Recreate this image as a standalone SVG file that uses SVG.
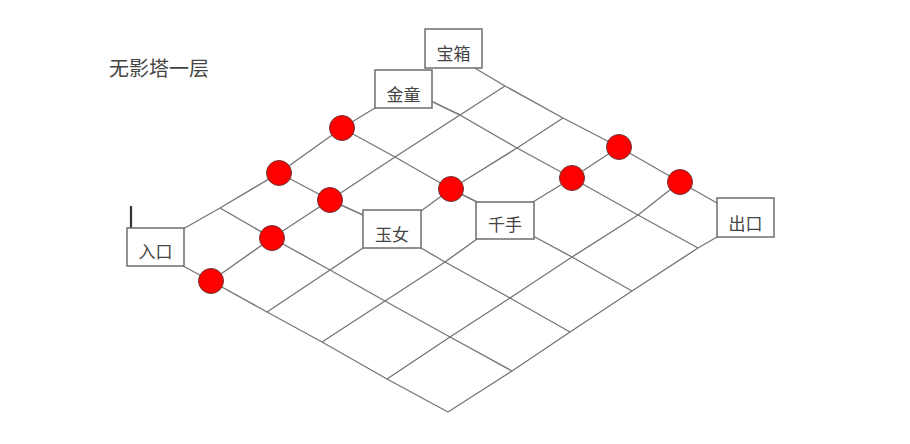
<svg xmlns="http://www.w3.org/2000/svg" width="910" height="444" viewBox="0 0 910 444">
<style>
.ln{fill:none;stroke:#777;stroke-width:1.4;stroke-linejoin:round}
.box{fill:#fff;stroke:#6e6e6e;stroke-width:1.5}
.lbl{font-family:"Noto Sans CJK SC","Noto Sans",sans-serif;font-size:17px;fill:#444;text-anchor:middle}
.dot{fill:#f00;stroke:#6b3434;stroke-width:1}
</style>
<rect width="910" height="444" fill="#fff"/>
<text x="109" y="76" style="font-family:'Noto Sans CJK SC','Noto Sans',sans-serif;font-size:20px;fill:#444">无影塔一层</text>
<line x1="131" y1="206" x2="131" y2="238" stroke="#333" stroke-width="2.2"/>
<g id="connectors">
<polyline class="ln" points="160,243 183,229 220,208 279,173 342,128 375,108 395,96"/>
<polyline class="ln" points="211,281 272,238 330,200 395,157 460,115 505,86"/>
<polyline class="ln" points="267,312 330,270 363,248 392,230 421,211 451,189 517,148 563,118"/>
<polyline class="ln" points="322,342 385,301 445,262 477,239 505,220 533,202 572,178 619,147"/>
<polyline class="ln" points="387,379 450,337 510,298 572,257 638,215 680,182"/>
<polyline class="ln" points="448,412 512,371 570,332 632,291 698,248 717,237 730,229"/>
<polyline class="ln" points="160,254 183,266 211,281 267,312 322,342 387,379 448,412"/>
<polyline class="ln" points="220,208 272,238 330,270 385,301 450,337 512,371"/>
<polyline class="ln" points="279,173 330,200 363,215 392,230 421,248 445,262 510,298 570,332"/>
<polyline class="ln" points="342,128 395,157 451,189 477,202 505,220 533,236 572,257 632,291"/>
<polyline class="ln" points="420,95 433,102 460,115 517,148 572,178 638,215 698,248"/>
<polyline class="ln" points="460,60 473,67 505,86 563,118 619,147 680,182 717,203 730,210"/>
</g>
<g id="n-baoxiang"><rect class="box" x="425" y="29" width="57" height="39"/><text class="lbl" x="453.5" y="60">宝箱</text></g>
<g id="n-jintong"><rect class="box" x="375" y="70" width="57" height="38"/><text class="lbl" x="403.5" y="100.5">金童</text></g>
<g id="n-yunv"><rect class="box" x="363" y="210" width="58" height="38"/><text class="lbl" x="392" y="240.5">玉女</text></g>
<g id="n-qianshou"><rect class="box" x="476" y="202" width="58" height="37"/><text class="lbl" x="505" y="231">千手</text></g>
<g id="n-chukou"><rect class="box" x="717" y="198" width="57" height="39"/><text class="lbl" x="745.5" y="229.5">出口</text></g>
<g id="n-rukou"><rect class="box" x="127" y="228" width="57" height="38"/><text class="lbl" x="155.5" y="258">入口</text></g>
<g id="dots">
<circle class="dot" cx="211" cy="281" r="12.5"/>
<circle class="dot" cx="272" cy="238" r="12.5"/>
<circle class="dot" cx="279" cy="173" r="12.5"/>
<circle class="dot" cx="342" cy="128" r="12.5"/>
<circle class="dot" cx="330" cy="200" r="12.5"/>
<circle class="dot" cx="451" cy="189" r="12.5"/>
<circle class="dot" cx="572" cy="178" r="12.5"/>
<circle class="dot" cx="619" cy="147" r="12.5"/>
<circle class="dot" cx="680" cy="182" r="12.5"/>
</g>
</svg>
